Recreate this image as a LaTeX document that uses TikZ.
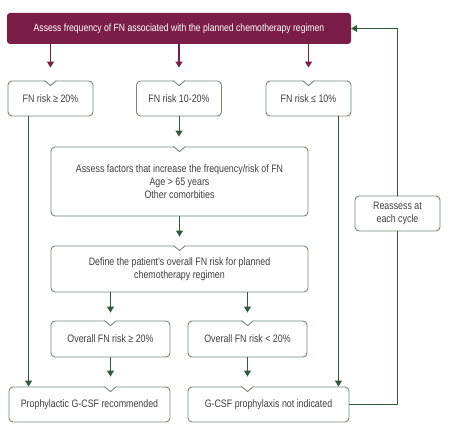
\documentclass[tikz,border=0pt]{standalone}
\usepackage{fontspec}
\setmainfont{Liberation Sans}[FakeStretch=0.82]
\usepackage{xcolor}
\usepackage{tikz}
\usetikzlibrary{calc,positioning,arrows.meta}
\definecolor{fnred}{HTML}{7A1E48}
\definecolor{fngreen}{HTML}{2F5B3B}
\definecolor{fnline}{HTML}{6F8B74}
\definecolor{fntext}{HTML}{3E3E3E}

% small v-shaped notch on the top edge of a box
\newcommand{\notch}[1]{%
	\fill[white] ($(#1)+(-6,-1)$) rectangle ($(#1)+(6,1)$);
	\draw[fnline,line width=0.9pt,line join=round] ($(#1)+(-6,0)$)--($(#1)+(0,5)$)--($(#1)+(6,0)$);}

\begin{document}
\begin{tikzpicture}[x=1pt,y=-1pt,
	box/.style={draw=fnline,line width=0.9pt,rounded corners=4pt,text=fntext,align=center,inner sep=0pt,font=\fontsize{10.8}{13}\selectfont},
	headbox/.style={fill=fnred,text=white,rounded corners=3pt,inner sep=0pt,minimum width=344pt,minimum height=31pt,font=\fontsize{10.5}{12}\selectfont},
	garr/.style={draw=fngreen,line width=1pt,-{Triangle[length=6pt,width=7pt]}},
	marr/.style={draw=fnred,line width=1.2pt,-{Triangle[length=6pt,width=7pt]}}]
	\useasboundingbox (0,0) rectangle (474,428);
	% header
	\node[headbox] (top) at (179,28.5) {Assess frequency of FN associated with the planned chemotherapy regimen};
	% first risk level
	\node[box,minimum width=85pt,minimum height=35pt] (r1) at (50.5,98.5) {FN risk ≥ 20\%};
	\node[box,minimum width=85pt,minimum height=35pt] (r2) at (179,98.5) {FN risk 10-20\%};
	\node[box,minimum width=85pt,minimum height=35pt] (r3) at (308.5,98.5) {FN risk ≤ 10\%};
	% middle column
	\node[box,minimum width=257pt,minimum height=69pt] (fac) at (179.5,181.5) {Assess factors that increase the frequency/risk of FN\\Age > 65 years\\Other comorbities};
	\node[box,minimum width=257pt,minimum height=46pt] (def) at (179.5,269) {Define the patient’s overall FN risk for planned\\chemotherapy regimen};
	\node[box,minimum width=119pt,minimum height=36pt] (ohi) at (110.5,339) {Overall FN risk ≥ 20\%};
	\node[box,minimum width=119pt,minimum height=36pt] (olo) at (247.5,339) {Overall FN risk < 20\%};
	% outcome
	\node[box,minimum width=161pt,minimum height=35pt] (rec) at (89.5,404.5) {Prophylactic G-CSF recommended};
	\node[box,minimum width=161pt,minimum height=35pt] (noind) at (268.5,404.5) {G-CSF prophylaxis not indicated};
	\node[box,minimum width=85pt,minimum height=35pt] (re) at (397.5,213.5) {Reassess at\\each cycle};
	% notches
	\foreach \n in {r1,r2,r3,fac,def,ohi,olo}
		\notch{\n.north};
	\notch{rec.north -| ohi}
	\notch{noind.north -| olo}
	% arrows
	\foreach \n in {r1,r2,r3}
		\draw[marr,shorten >=13pt] (top.south -| \n) -- (\n.north);
	\draw[garr,shorten >=10pt] (r2.south) -- (fac.north -| r2);
	\draw[garr,shorten >=9pt] (fac.south) -- (def.north);
	\draw[garr,shorten >=8pt] (def.south -| ohi) -- (ohi.north);
	\draw[garr,shorten >=8pt] (def.south -| olo) -- (olo.north);
	\draw[garr,shorten >=10pt] (ohi.south) -- (ohi |- rec.north);
	\draw[garr,shorten >=10pt] (olo.south) -- (olo |- noind.north);
	\coordinate (lft) at ($(r1.south west)+(21,0)$);
	\coordinate (rgt) at ($(r3.south east)+(-13,0)$);
	\draw[garr] (lft) -- (lft |- rec.north);
	\draw[garr] (rgt) -- (rgt |- noind.north);
	% loop back
	\draw[fngreen,line width=1pt] (noind.east) -- (noind.east -| re) -- (re.south);
	\draw[garr] (re.north) -- (re |- top.east) -- (top.east);
\end{tikzpicture}
\end{document}
